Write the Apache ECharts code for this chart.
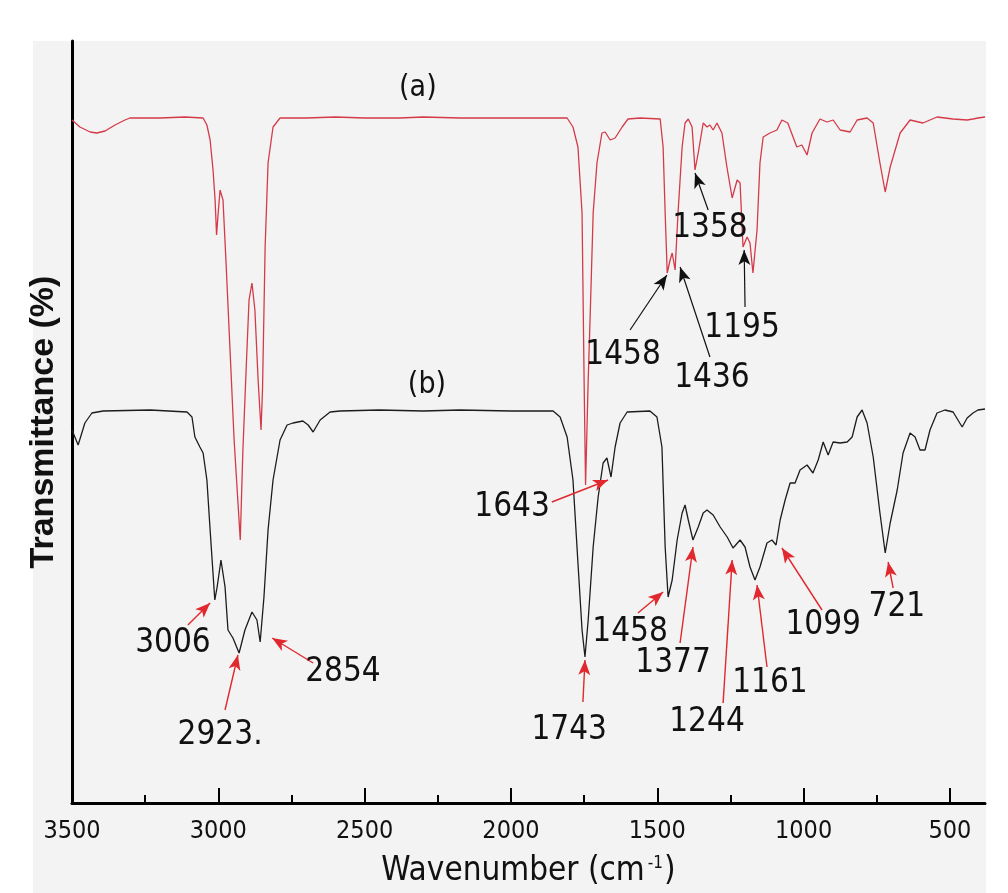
<!DOCTYPE html>
<html><head><meta charset="utf-8">
<script src="https://cdn.jsdelivr.net/npm/echarts@6/dist/echarts.min.js"></script>
<style>html,body{margin:0;padding:0;background:#fff}#c{width:1008px;height:893px}</style>
</head><body><div id="c"></div>
<script>
// Spectrum (a) – wavenumber (cm-1) and transmittance (arbitrary units, offset)
const wnA = [3500,3473,3438,3415,3387,3353,3319,3302,3199,3114,3052,3039,3028,3018,3011,3006,3001,2994,2984,2974,2960,2946,2925,2916,2905,2895,2885,2875,2864,2854,2849,2840,2830,2813,2789,2700,2600,2500,2379,2300,2174,2050,1901,1808,1788,1771,1757,1750,1745,1736,1730,1719,1706,1689,1678,1661,1644,1620,1600,1559,1490,1480,1473,1466,1456,1449,1439,1429,1415,1405,1394,1381,1371,1360,1343,1330,1320,1309,1296,1279,1262,1244,1227,1217,1207,1193,1183,1173,1159,1149,1138,1115,1091,1074,1054,1023,1006,988,971,944,920,899,875,841,817,783,762,739,721,704,670,636,592,544,489,441,421,404,380];
const tA = [683,676,671,670,672,678,683,685,685,686,685,678,663,633,603,568,588,613,603,543,453,363,263,353,433,503,520,493,423,373,413,556,640,676,685,685,686,685,685,686,685,685,685,685,676,656,590,423,318,423,480,590,640,670,671,663,665,676,684,685,684,656,590,530,543,550,533,590,656,680,684,676,633,650,680,676,678,673,680,670,636,605,623,620,556,566,560,530,573,640,666,670,673,683,680,656,658,648,670,684,681,683,673,671,683,685,680,640,611,636,670,683,680,686,684,683,684,685,686];

// Spectrum (b)
const wnB = [3500,3479,3456,3432,3394,3233,3107,3090,3080,3063,3052,3039,3028,3012,3004,2991,2977,2967,2950,2929,2909,2885,2868,2857,2844,2830,2813,2789,2765,2745,2728,2711,2693,2676,2652,2618,2584,2450,2300,2174,2000,1901,1856,1832,1808,1788,1771,1757,1747,1736,1719,1702,1685,1672,1658,1644,1627,1603,1525,1501,1484,1473,1463,1449,1432,1415,1405,1394,1378,1360,1343,1330,1309,1285,1261,1241,1217,1200,1183,1166,1149,1125,1108,1094,1080,1063,1046,1029,1012,988,968,950,933,916,899,875,851,834,817,800,783,762,739,721,704,680,660,636,619,602,585,568,544,517,489,458,441,421,404,380];
const tB = [373,358,380,390,392,393,391,386,366,356,350,323,273,203,216,243,216,173,165,150,173,191,183,161,206,273,323,363,378,380,381,382,378,371,383,391,392,393,392,393,392,392,392,386,366,323,240,173,146,183,256,306,340,345,326,356,380,391,392,386,356,256,206,223,263,290,298,283,263,276,290,293,288,276,266,255,263,256,236,223,236,260,263,258,283,303,320,320,333,338,330,343,361,348,361,360,361,366,386,393,380,346,290,250,280,313,350,370,366,353,353,373,390,393,391,376,385,390,393,394];

// Axis ticks
const majorTicks = [3500,3000,2500,2000,1500,1000,500];
const minorTicks = [3250,2750,2250,1750,1250,750];

// Peak annotations for (a): label, text anchor, arrow tail, arrow tip
const annALabels = ['1358','1458','1436','1195'];
const annAText = [[1320,575],[1617,448],[1313,425],[1210,475]];
const annAFrom = [[1326,593],[1593,473],[1320,446],[1200,496]];
const annATo = [[1371,630],[1467,528],[1422,536],[1203,553]];

// Peak annotations for (b)
const annBLabels = ['3006','2923.','2854','1643','1743','1458','1377','1244','1161','1099','721'];
const annBText = [[3155,160],[2994,68],[2574,131],[1996,296],[1801,73],[1593,171],[1446,140],[1330,81],[1115,120],[933,178],[681,196]];
const annBFrom = [[3104,178],[2977,93],[2676,140],[1860,301],[1754,101],[1566,190],[1422,160],[1275,100],[1125,136],[937,193],[694,215]];
const annBTo = [[3028,200],[2933,148],[2816,165],[1668,323],[1747,143],[1480,211],[1378,256],[1244,243],[1159,218],[1074,255],[711,241]];

// Curve names
const curveNames = ['(a)','(b)'];
const curveNamePos = [[2318,715],[2287,418]];

const NARROW = "'Liberation Sans Narrow','DejaVu Sans Condensed','Liberation Sans',sans-serif";
const chart = echarts.init(document.getElementById('c'), null, {renderer:'canvas'});

function lineLabels(labels, pos, extra) {
  return labels.map((t,i)=>({name:t, coord:pos[i]})).concat(extra||[]);
}
function arrows(from, to) { return from.map((f,i)=>[{coord:f},{coord:to[i]}]); }

const opt = {
  animation:false,
  backgroundColor:'#ffffff',
  graphic:[{type:'rect', left:33, top:41, shape:{width:953, height:852}, style:{fill:'#f3f3f3'}, z:-100, silent:true}],
  grid:{left:72, right:23, top:41, bottom:90, containLabel:false, outerBoundsMode:'none'},
  xAxis:[{
    type:'value', inverse:true, min:380, max:3500, position:'bottom',
    axisLine:{show:true, onZero:false, lineStyle:{color:'#000', width:3}},
    axisTick:{show:true, inside:true, length:15, customValues:majorTicks, lineStyle:{color:'#000', width:2}},
    axisLabel:{show:true, customValues:majorTicks, formatter:v=>String(v), margin:16, fontSize:25, fontFamily:NARROW, color:'#111'},
    splitLine:{show:false},
    name:'Wavenumber (cm{s|-1})', nameLocation:'middle', nameGap:52,
    nameTextStyle:{fontSize:33, fontFamily:NARROW, color:'#111', rich:{s:{fontSize:17, fontFamily:NARROW, color:'#111', verticalAlign:'top', padding:[0,1,0,3]}}}
  },{
    type:'value', inverse:true, min:380, max:3500, position:'bottom', gridIndex:0,
    axisLine:{show:false},
    axisTick:{show:true, inside:true, length:8, customValues:minorTicks, lineStyle:{color:'#000', width:2}},
    axisLabel:{show:false}, splitLine:{show:false}
  }],
  yAxis:{
    type:'value', min:0, max:762,
    axisLine:{show:true, lineStyle:{color:'#000', width:3}},
    axisTick:{show:false}, axisLabel:{show:false}, splitLine:{show:false},
    name:'Transmittance (%)', nameLocation:'middle', nameGap:11, nameRotate:90,
    nameTextStyle:{fontSize:34, fontWeight:'bold', fontFamily:"'Liberation Sans',Arial,sans-serif", color:'#111'}
  },
  series:[
    {
      name:'a', type:'line', xAxisIndex:0, data:wnA.map((w,i)=>[w,tA[i]]),
      showSymbol:false, symbol:'none', lineStyle:{color:'#d43a48', width:1.3}, silent:true,
      markLine:{silent:true, symbol:['none','arrow'], symbolSize:[9,15], label:{show:false},
        lineStyle:{color:'#111', width:1.2, type:'solid'}, data:arrows(annAFrom, annATo)},
      markPoint:{silent:true, symbol:'circle', symbolSize:0,
        label:{show:true, position:'inside', formatter:p=>p.name, fontSize:33, fontFamily:NARROW, color:'#111'},
        data:lineLabels(annALabels, annAText, [{name:curveNames[0], coord:curveNamePos[0], label:{fontSize:30}}])}
    },
    {
      name:'b', type:'line', xAxisIndex:0, data:wnB.map((w,i)=>[w,tB[i]]),
      showSymbol:false, symbol:'none', lineStyle:{color:'#1c1c1c', width:1.3}, silent:true,
      markLine:{silent:true, symbol:['none','arrow'], symbolSize:[9,15], label:{show:false},
        lineStyle:{color:'#e0282e', width:1.4, type:'solid'}, data:arrows(annBFrom, annBTo)},
      markPoint:{silent:true, symbol:'circle', symbolSize:0,
        label:{show:true, position:'inside', formatter:p=>p.name, fontSize:33, fontFamily:NARROW, color:'#111'},
        data:lineLabels(annBLabels, annBText, [{name:curveNames[1], coord:curveNamePos[1], label:{fontSize:30}}])}
    }
  ]
};
chart.setOption(opt);
</script></body></html>
